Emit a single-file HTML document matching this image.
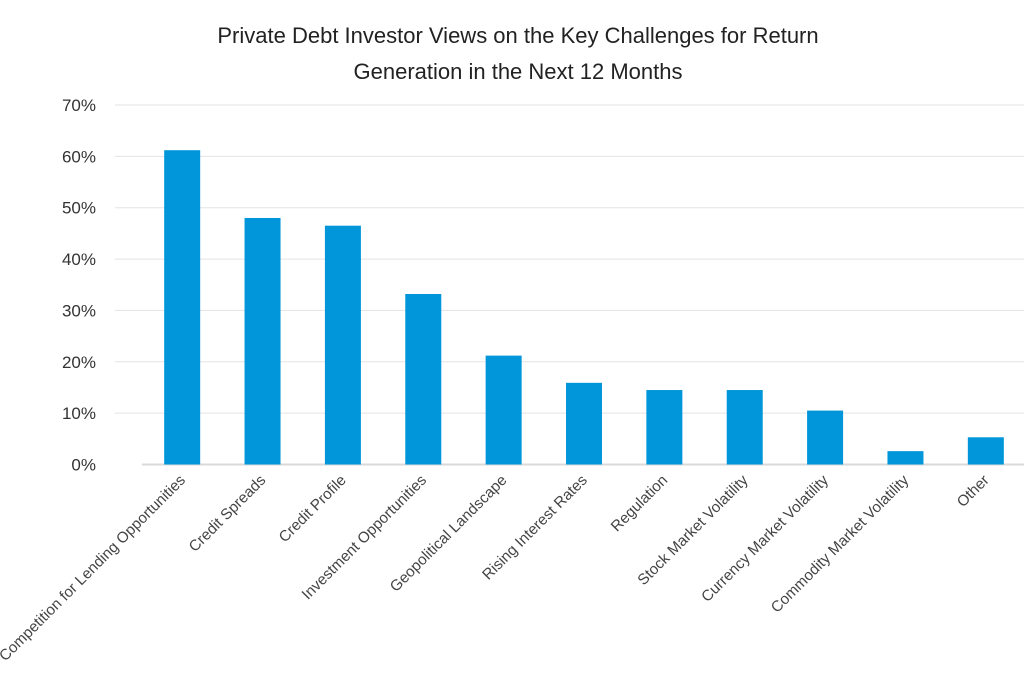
<!DOCTYPE html>
<html><head><meta charset="utf-8"><style>
html,body{margin:0;padding:0;background:#fff;}
svg{display:block;font-family:"Liberation Sans",sans-serif;}
</style></head><body>
<svg id="chart" width="1024" height="678">
<text x="518" y="43" text-anchor="middle" font-size="22" fill="#222">Private Debt Investor Views on the Key Challenges for Return</text>
<text x="518" y="79" text-anchor="middle" font-size="22" fill="#222">Generation in the Next 12 Months</text>
<g id="grid"></g><g id="bars"></g><g id="xlabels"></g>
</svg>
<script>
const categories=["Competition for Lending Opportunities","Credit Spreads","Credit Profile","Investment Opportunities","Geopolitical Landscape","Rising Interest Rates","Regulation","Stock Market Volatility","Currency Market Volatility","Commodity Market Volatility","Other"];
const values=[61.2,48.0,46.5,33.2,21.2,15.9,14.5,14.5,10.5,2.6,5.3];
const yTicks=[0,10,20,30,40,50,60,70];
const yTickLabels=["0%","10%","20%","30%","40%","50%","60%","70%"];
const NS="http://www.w3.org/2000/svg";
const x0=142,x1=1026,y0=464.5,yTop=105;
const y=v=>y0-(v/70)*(y0-yTop);
const band=(x1-x0)/categories.length;
const xc=i=>x0+band*(i+0.5);
function mk(t,a,p){const e=document.createElementNS(NS,t);for(const k in a)e.setAttribute(k,a[k]);p.appendChild(e);return e;}
const g=document.getElementById('grid');
yTicks.forEach((t,i)=>{
 const l=mk('line',{x1:i===0?142:115,x2:1024,y1:y(t),y2:y(t),stroke:i===0?'#d9d9d9':'#e3e3e3','stroke-width':i===0?2:1},g);
 
 
 const tx=mk('text',{x:96,y:y(t)+6,'text-anchor':'end','font-size':17,fill:'#333'},g);
 tx.textContent=yTickLabels[i];
 
 
});
const b=document.getElementById('bars');
values.forEach((v,i)=>{
 const r=mk('rect',{x:xc(i)-18,y:y(v),width:36,height:y0-y(v),fill:'#0096d9'},b);
 
 
});
const xl=document.getElementById('xlabels');
categories.forEach((c,i)=>{
 const px=xc(i)+4,py=481;
 const t=mk('text',{x:px,y:py,'text-anchor':'end','font-size':15.2,fill:'#444',transform:`rotate(-45 ${px} ${py})`},xl);
 t.textContent=c;
 
 
});
</script>
</body></html>
